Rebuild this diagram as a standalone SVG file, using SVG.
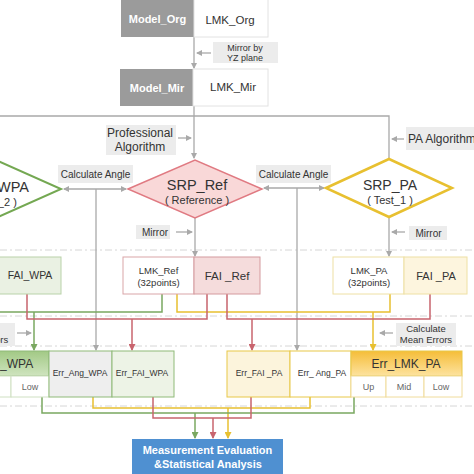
<svg xmlns="http://www.w3.org/2000/svg" width="474" height="474" viewBox="0 0 474 474">
<style>
text{font-family:"Liberation Sans",Arial,sans-serif;fill:#333;text-anchor:middle}
.wb{fill:#fff;font-weight:bold;font-size:11px}
.lbl{fill:#ececec}
.g{stroke:#a9a9a9;stroke-width:1.3;fill:none}
.gr{stroke:#7aa860;stroke-width:1.5;fill:none}
.rd{stroke:#c8646e;stroke-width:1.5;fill:none}
.yl{stroke:#e8c030;stroke-width:1.5;fill:none}
.dash{stroke:#d6d6d6;stroke-width:1;stroke-dasharray:7 3 2 3;fill:none}
.sub{font-size:9px;fill:#666}
.e{font-size:8.5px}
.s9{font-size:9px}
.s95{font-size:9.5px}
.s10{font-size:10px}
</style>
<defs>
<marker id="ag" markerWidth="6" markerHeight="6" refX="5" refY="3" orient="auto" markerUnits="userSpaceOnUse"><path d="M0,0 L6,3 L0,6 z" fill="#a9a9a9"/></marker>
<marker id="agr" markerWidth="7" markerHeight="7" refX="6" refY="3.5" orient="auto" markerUnits="userSpaceOnUse"><path d="M0,0 L7,3.5 L0,7 z" fill="#7aa860"/></marker>
<marker id="ard" markerWidth="7" markerHeight="7" refX="6" refY="3.5" orient="auto" markerUnits="userSpaceOnUse"><path d="M0,0 L7,3.5 L0,7 z" fill="#c8646e"/></marker>
<marker id="ayl" markerWidth="7" markerHeight="7" refX="6" refY="3.5" orient="auto" markerUnits="userSpaceOnUse"><path d="M0,0 L7,3.5 L0,7 z" fill="#e8c030"/></marker>
<marker id="agS" markerWidth="6" markerHeight="6" refX="1" refY="3" orient="auto" markerUnits="userSpaceOnUse"><path d="M6,0 L0,3 L6,6 z" fill="#a9a9a9"/></marker>
<linearGradient id="gpa" x1="0" y1="0" x2="0" y2="1"><stop offset="0" stop-color="#f5bd38"/><stop offset="1" stop-color="#fde3a0"/></linearGradient>
<linearGradient id="gwpa" x1="0" y1="0" x2="0" y2="1"><stop offset="0" stop-color="#a2c985"/><stop offset="1" stop-color="#cfe4bf"/></linearGradient>
</defs>
<rect width="474" height="474" fill="#fff"/>

<g id="dashes">
<line class="dash" x1="0" y1="250" x2="474" y2="250"/>
<line class="dash" x1="0" y1="316" x2="474" y2="316"/>
<line class="dash" x1="0" y1="346" x2="474" y2="346"/>
<line class="dash" x1="0" y1="406" x2="474" y2="406"/>
</g>

<g id="connectors">
<line class="g" x1="194" y1="37" x2="194" y2="68" marker-end="url(#ag)"/>
<line class="g" x1="211" y1="53" x2="197" y2="53" marker-end="url(#ag)"/>
<line class="g" x1="194" y1="106" x2="194" y2="158" marker-end="url(#ag)"/>
<polyline class="g" points="-5,116 389,116 389,159"/>
<line class="g" x1="178" y1="138" x2="191" y2="138" marker-end="url(#ag)"/>
<line class="g" x1="404" y1="139" x2="392" y2="139" marker-end="url(#ag)"/>
<line class="g" x1="64" y1="189" x2="126" y2="189" marker-start="url(#agS)" marker-end="url(#ag)"/>
<line class="g" x1="96" y1="189" x2="96" y2="350" marker-end="url(#ag)"/>
<line class="g" x1="264" y1="188" x2="324" y2="188" marker-start="url(#agS)" marker-end="url(#ag)"/>
<line class="g" x1="297" y1="188" x2="297" y2="350" marker-end="url(#ag)"/>
<line class="g" x1="176" y1="232" x2="192" y2="232" marker-end="url(#ag)"/>
<line class="g" x1="195" y1="218" x2="195" y2="256" marker-end="url(#ag)"/>
<line class="g" x1="405" y1="232" x2="392" y2="232" marker-end="url(#ag)"/>
<line class="g" x1="389" y1="217" x2="389" y2="256" marker-end="url(#ag)"/>
<line class="g" x1="393" y1="333" x2="380" y2="333" marker-end="url(#ag)"/>
<line class="g" x1="17" y1="333" x2="31" y2="333" marker-end="url(#ag)"/>

<polyline class="gr" points="162,294 162,312 -5,312"/>
<line class="gr" x1="34" y1="312" x2="34" y2="350" marker-end="url(#agr)"/>
<polyline class="yl" points="177,294 177,312 390,312 390,294"/>
<line class="yl" x1="373" y1="312" x2="373" y2="350" marker-end="url(#ayl)"/>
<polyline class="rd" points="27,294 27,319 207,319 207,294"/>
<line class="rd" x1="132" y1="319" x2="132" y2="350" marker-end="url(#ard)"/>
<polyline class="rd" points="227,294 227,319 430,319 430,294"/>
<line class="rd" x1="252" y1="319" x2="252" y2="350" marker-end="url(#ard)"/>

<polyline class="yl" points="93,397 93,408 310,408 310,397"/>
<line class="yl" x1="228" y1="408" x2="228" y2="438" marker-end="url(#ayl)"/>
<polyline class="gr" points="42,397 42,413 354,413 354,397"/>
<line class="gr" x1="195" y1="413" x2="195" y2="438" marker-end="url(#agr)"/>
<polyline class="rd" points="153,397 153,418 251,418 251,397"/>
<line class="rd" x1="213" y1="418" x2="213" y2="438" marker-end="url(#ard)"/>
</g>

<g id="labels">
<rect class="lbl" x="213" y="42" width="65" height="21"/>
<text class="s9" x="245" y="50.5">Mirror by</text>
<text class="s9" x="245" y="60.5">YZ plane</text>
<rect class="lbl" x="106" y="125" width="70" height="30"/>
<text style="font-size:12px" x="140" y="136.5">Professional</text>
<text style="font-size:12px" x="140" y="150.5">Algorithm</text>
<rect class="lbl" x="406" y="127" width="70" height="23"/>
<text style="font-size:12px;text-anchor:start" x="408" y="142.5">PA Algorithm</text>
<rect class="lbl" x="58" y="165" width="75" height="18"/>
<text class="s10" x="95.5" y="177.5">Calculate Angle</text>
<rect class="lbl" x="256" y="165" width="75" height="18"/>
<text class="s10" x="293.5" y="177.5">Calculate Angle</text>
<rect class="lbl" x="136" y="225" width="34" height="14"/>
<text class="s10" x="155" y="235.5">Mirror</text>
<rect class="lbl" x="409" y="226" width="38" height="14"/>
<text class="s10" x="428.5" y="236.5">Mirror</text>
<rect class="lbl" x="396" y="323" width="60" height="23"/>
<text class="s95" x="426" y="331.5">Calculate</text>
<text class="s95" x="426" y="342.5">Mean Errors</text>
<rect class="lbl" x="-50" y="323" width="65" height="23"/>
<text class="s95" x="-23" y="331.5">Calculate</text>
<text class="s95" x="-18" y="342.5">Mean Errors</text>
</g>

<g id="model-org">
<rect x="121" y="-1" width="73" height="38" fill="#9b9b9b"/>
<text class="wb" x="157.5" y="23">Model_Org</text>
<rect x="194" y="-1" width="74" height="38" fill="#fff" stroke="#e2e2e2"/>
<text style="font-size:11.5px" x="230" y="24">LMK_Org</text>
</g>
<g id="model-mir">
<rect x="120" y="69" width="73" height="37" fill="#9b9b9b"/>
<text class="wb" x="157" y="91.5">Model_Mir</text>
<rect x="193" y="69" width="75" height="37" fill="#fff" stroke="#e2e2e2"/>
<text style="font-size:11.5px" x="233" y="91">LMK_Mir</text>
</g>

<g id="srp-wpa">
<polygon points="-69,189 -4,160 61,189 -4,218" fill="#fff" stroke="#74a852" stroke-width="2"/>
<text style="font-size:14.5px" x="-6" y="192">SRP_WPA</text>
<text style="font-size:11px" x="-6" y="206">( Test_2 )</text>
</g>
<g id="srp-ref">
<polygon points="128,189 195,160 262,189 195,218" fill="#f9d8d8" stroke="#e07a82" stroke-width="1.5"/>
<text style="font-size:14.5px" x="197" y="190">SRP_Ref</text>
<text style="font-size:11px" x="197" y="204">( Reference )</text>
</g>
<g id="srp-pa">
<polygon points="326,188 389,159 452,188 389,217" fill="#fff" stroke="#e8c030" stroke-width="2.5"/>
<text style="font-size:14px" x="390" y="190">SRP_PA</text>
<text style="font-size:11px" x="390" y="204">( Test_1 )</text>
</g>

<g id="fai-wpa">
<rect x="-1" y="257" width="62" height="37" fill="#eaf1e3" stroke="#b9d2a9"/>
<text style="font-size:10.5px" x="30" y="279">FAI_WPA</text>
</g>
<g id="lmk-ref">
<rect x="123" y="257" width="71" height="37" fill="#fff" stroke="#d9a5a8"/>
<text class="s95" x="158.5" y="273.5">LMK_Ref</text>
<text class="s95" x="158.5" y="285.5">(32points)</text>
</g>
<g id="fai-ref">
<rect x="194" y="257" width="66" height="37" fill="#f5dcdc" stroke="#d49a9e"/>
<text style="font-size:11.5px" x="227" y="279.5">FAI _Ref</text>
</g>
<g id="lmk-pa">
<rect x="333" y="257" width="71" height="37" fill="#fff" stroke="#eee0a4"/>
<text class="s95" x="369" y="273.5">LMK_PA</text>
<text class="s95" x="369" y="285.5">(32points)</text>
</g>
<g id="fai-pa">
<rect x="404" y="257" width="63" height="37" fill="#fdf5de" stroke="#eee0a4"/>
<text style="font-size:11px" x="436" y="279.5">FAI _PA</text>
</g>

<g id="err-lmk-wpa">
<rect x="-64" y="351" width="113" height="25" fill="url(#gwpa)" stroke="#8fba78"/>
<text style="font-size:12px" x="-7" y="367.5">Err_LMK_WPA</text>
<rect x="-64" y="376" width="37" height="21" fill="#fff" stroke="#cfe0c2"/>
<rect x="-27" y="376" width="38" height="21" fill="#fff" stroke="#cfe0c2"/>
<rect x="11" y="376" width="38" height="21" fill="#fff" stroke="#cfe0c2"/>
<text class="sub" x="-45.5" y="389.5">Up</text>
<text class="sub" x="-8" y="389.5">Mid</text>
<text class="sub" x="30" y="389.5">Low</text>
</g>
<g id="err-ang-wpa">
<rect x="49" y="351" width="63" height="46" fill="#eeeeee" stroke="#8fba78"/>
<text class="e" x="80" y="376">Err_Ang_WPA</text>
</g>
<g id="err-fai-wpa">
<rect x="112" y="351" width="62" height="46" fill="#edf3e6" stroke="#8fba78"/>
<text class="e" x="142" y="376">Err_FAI_WPA</text>
</g>
<g id="err-fai-pa">
<rect x="227" y="351" width="63" height="46" fill="#fcf4dc" stroke="#e8c848"/>
<text class="e" x="259" y="376">Err_FAI _PA</text>
</g>
<g id="err-ang-pa">
<rect x="290" y="351" width="61" height="46" fill="#fff" stroke="#e8c848"/>
<text class="e" x="322" y="376">Err_ Ang_PA</text>
</g>
<g id="err-lmk-pa">
<rect x="351" y="351" width="111" height="25" fill="url(#gpa)" stroke="#e8c848"/>
<text style="font-size:12px" x="406" y="367.5">Err_LMK_PA</text>
<rect x="351" y="376" width="35" height="21" fill="#fff" stroke="#f0dc9c"/>
<rect x="386" y="376" width="38" height="21" fill="#fff" stroke="#f0dc9c"/>
<rect x="424" y="376" width="38" height="21" fill="#fff" stroke="#f0dc9c"/>
<text class="sub" x="368.5" y="389.5">Up</text>
<text class="sub" x="404" y="389.5">Mid</text>
<text class="sub" x="441" y="389.5">Low</text>
</g>

<g id="evaluation">
<rect x="132" y="439" width="151" height="40" fill="#4f90d1"/>
<text class="wb" x="207.5" y="454">Measurement Evaluation</text>
<text class="wb" x="208" y="467.5">&amp;Statistical Analysis</text>
</g>
</svg>
